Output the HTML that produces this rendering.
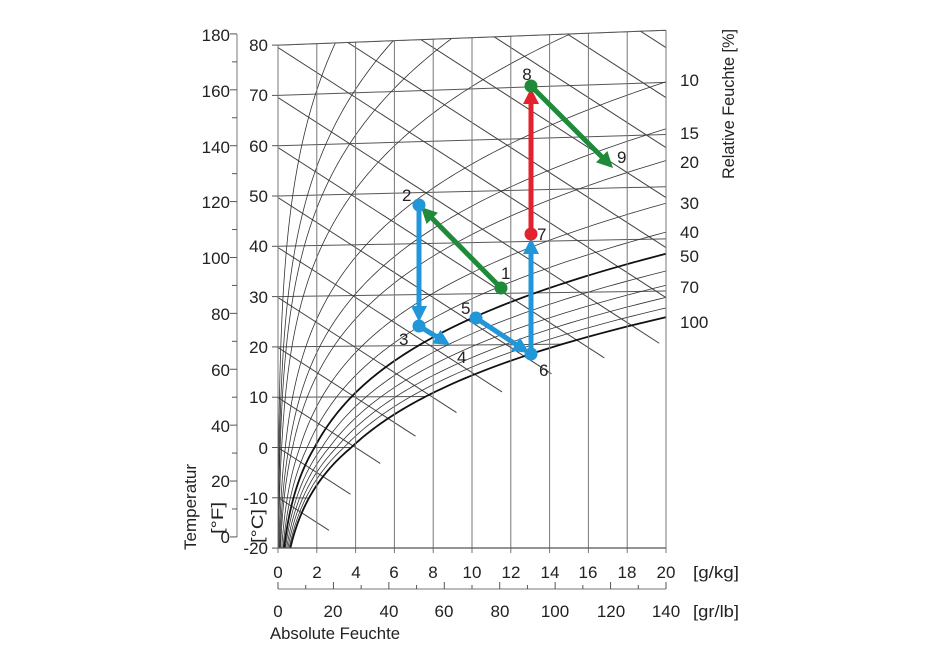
<!DOCTYPE html>
<html><head><meta charset="utf-8"><style>
html,body{margin:0;padding:0;background:#fff}
svg{display:block}
text{font-family:"Liberation Sans Narrow","Liberation Sans",sans-serif;fill:#222}
</style></head><body>
<svg id="s" width="935" height="647" viewBox="0 0 935 647" xmlns="http://www.w3.org/2000/svg">
<defs><clipPath id="c"><polygon points="278,45.3 666,30.4 666,548 278,548"/></clipPath></defs>
<g id="grid" clip-path="url(#c)"></g>
<g id="frame"></g>
<g id="proc"></g>
<g font-size="17">
<g text-anchor="end">
<text x="268" y="51">80</text><text x="268" y="101">70</text><text x="268" y="152">60</text><text x="268" y="202">50</text><text x="268" y="252">40</text><text x="268" y="303">30</text><text x="268" y="353">20</text><text x="268" y="403">10</text><text x="268" y="454">0</text><text x="268" y="504">-10</text><text x="268" y="554">-20</text>
<text x="230" y="41">180</text><text x="230" y="97">160</text><text x="230" y="153">140</text><text x="230" y="208">120</text><text x="230" y="264">100</text><text x="230" y="320">80</text><text x="230" y="376">60</text><text x="230" y="432">40</text><text x="230" y="487">20</text><text x="230" y="543">0</text>
</g>
<g text-anchor="middle">
<text x="278" y="578">0</text><text x="317" y="578">2</text><text x="356" y="578">4</text><text x="394" y="578">6</text><text x="433" y="578">8</text><text x="472" y="578">10</text><text x="511" y="578">12</text><text x="550" y="578">14</text><text x="588" y="578">16</text><text x="627" y="578">18</text><text x="666" y="578">20</text>
<text x="278" y="617">0</text><text x="333" y="617">20</text><text x="389" y="617">40</text><text x="444" y="617">60</text><text x="500" y="617">80</text><text x="555" y="617">100</text><text x="611" y="617">120</text><text x="666" y="617">140</text>
</g>
<text x="693" y="578" textLength="46" lengthAdjust="spacingAndGlyphs">[g/kg]</text>
<text x="693" y="617" textLength="46" lengthAdjust="spacingAndGlyphs">[gr/lb]</text>
<text x="270" y="639" textLength="130" lengthAdjust="spacingAndGlyphs">Absolute Feuchte</text>
<text x="680" y="86">10</text><text x="680" y="139">15</text><text x="680" y="168">20</text><text x="680" y="209">30</text><text x="680" y="238">40</text><text x="680" y="262">50</text><text x="680" y="293">70</text><text x="680" y="328">100</text>
<text transform="translate(734,104) rotate(-90)" text-anchor="middle" textLength="150" lengthAdjust="spacingAndGlyphs">Relative Feuchte [%]</text>
<text transform="translate(196,507) rotate(-90)" text-anchor="middle" textLength="86" lengthAdjust="spacingAndGlyphs">Temperatur</text>
<text transform="translate(223,518) rotate(-90)" text-anchor="middle" textLength="32" lengthAdjust="spacingAndGlyphs">[°F]</text>
<text transform="translate(263,526) rotate(-90)" text-anchor="middle" textLength="34" lengthAdjust="spacingAndGlyphs">[°C]</text>
<text x="527" y="80" text-anchor="middle">8</text>
<text x="617" y="163">9</text>
<text x="402" y="201">2</text>
<text x="537" y="240">7</text>
<text x="501" y="279">1</text>
<text x="461" y="314">5</text>
<text x="399" y="345">3</text>
<text x="457" y="363">4</text>
<text x="539" y="376">6</text>
</g>
</svg>
<script>
var NS="http://www.w3.org/2000/svg";
function X(x){return 278+19.4*x}
function Y(t,x){return 447.5-5.03*(t+0.00185*t*x)}
function ps(t){return t>=0?0.6112*Math.exp(17.62*t/(243.12+t)):0.6112*Math.exp(22.46*t/(272.62+t))}
function xs(t,phi){var p=phi*ps(t);return 622*p/(101.325-p)}
function el(g,tag,a){var e=document.createElementNS(NS,tag);for(var k in a)e.setAttribute(k,a[k]);document.getElementById(g).appendChild(e);return e}
function line(g,x1,y1,x2,y2,c,w){el(g,"line",{x1:x1,y1:y1,x2:x2,y2:y2,stroke:c,"stroke-width":w})}
for(var i=0;i<=20;i+=2)line("frame",X(i),Y(80,i),X(i),553,"#777",1);
for(var t=-10;t<=80;t+=10){var xe=Math.min(20,xs(t,1));line("grid",X(0),Y(t,0),X(xe),Y(t,xe),"#555",1);}
line("frame",278,548,666,548,"#555",1.2);
line("frame",X(0),Y(80,0),X(20),Y(80,20),"#555",1);
for(var h=-20;h<=130;h+=10){
  var xe=30;
  for(var t=-30;t<=80;t+=0.05){var xx=xs(t,1);var hh=1.006*t+xx*(2.501+0.00186*t);if(hh>=h){xe=xx;break;}}
  var xend=Math.min(xe+1.4,22);
  var y0=447.5-5.03*(h)/1.006, yE=447.5-5.03*(h-2.501*xend)/1.006;
  line("grid",X(0),y0,X(xend),yE,"#444",1);
}
var rh=[1,2,3,5,10,15,20,30,40,50,60,70,80,90,100];
rh.forEach(function(r){var pts=[];for(var t=-25;t<=82;t+=0.5){var x=xs(t,r/100);if(x>21){pts.push(X(x)+","+Y(t,x));break;}pts.push(X(x)+","+Y(t,x));}
 var b=(r==100||r==50);el("grid","polyline",{points:pts.join(" "),fill:"none",stroke:b?"#111":"#333","stroke-width":b?1.8:0.8});});
line("frame",278,45,278,548,"#777",1);
for(var t=-20;t<=80;t+=10)line("frame",272,Y(t,0),278,Y(t,0),"#555",1);
line("frame",237,34,237,537,"#777",1);
for(var F=0;F<=180;F+=10){var y=447.5-5.03*(F-32)*5/9;line("frame",F%20==0?230:232,y,237,y,"#555",1);}
line("frame",278,589,666,589,"#777",1);
for(var g=0;g<=140;g+=10){var x=278+388*g/140;line("frame",x,g%20==0?582:585,x,589,"#555",1);}
var B="#2196d8",G="#1f8a3a",R="#e2222c";
function arrow(x1,y1,x2,y2,c){var dx=x2-x1,dy=y2-y1,L=Math.hypot(dx,dy),ux=dx/L,uy=dy/L,hl=16,hw=8;
 var bx=x2-ux*hl,by=y2-uy*hl;line("proc",x1,y1,bx+ux*2,by+uy*2,c,5);
 el("proc","polygon",{points:x2+","+y2+" "+(bx-uy*hw)+","+(by+ux*hw)+" "+(bx+uy*hw)+","+(by-ux*hw),fill:c});}
arrow(501,288,421,207,G);
arrow(419,205,419,322,B);
arrow(419,326,450,345,B);
arrow(476,318,529,353,B);
arrow(531,354,531,238,B);
arrow(531,234,531,88,R);
arrow(531,86,613,168,G);
[[501,288,G],[419,205,B],[419,326,B],[476,318,B],[531,354,B],[531,234,R],[531,86,G]].forEach(function(p){el("proc","circle",{cx:p[0],cy:p[1],r:6.5,fill:p[2]});});
</script>
</body></html>
